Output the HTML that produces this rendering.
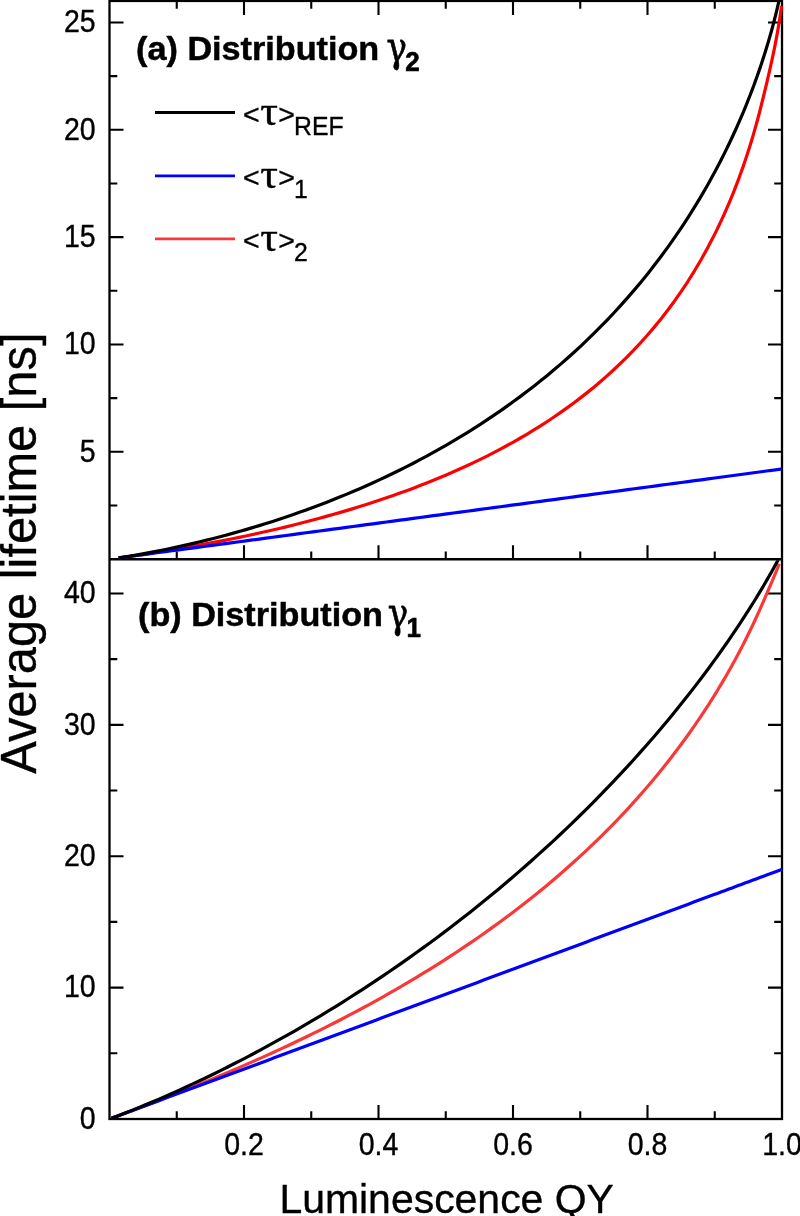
<!DOCTYPE html>
<html lang="en"><head><meta charset="utf-8"><title>Average lifetime vs Luminescence QY</title>
<style>html,body{margin:0;padding:0;background:#fff}svg{display:block}</style></head>
<body>
<svg width="800" height="1216" viewBox="0 0 800 1216">
<rect width="800" height="1216" fill="#fff"/>
<defs><clipPath id="ca"><rect x="109.5" y="0" width="673.7" height="560.45"/></clipPath><clipPath id="cb"><rect x="109.5" y="560.35" width="673.7" height="559.75"/></clipPath></defs>
<g stroke="#000" stroke-width="2.3" fill="none" stroke-linecap="butt">
<rect x="109.5" y="0.95" width="672.5" height="1118.05"/>
<line x1="109.5" y1="559.25" x2="782.0" y2="559.25"/>
<path d="M176.75,0.95v7.8 M176.75,559.25v-7.8 M176.75,1119.0v-7.8 M244.00,0.95v14.0 M244.00,559.25v-14.0 M244.00,1119.0v-14.0 M311.25,0.95v7.8 M311.25,559.25v-7.8 M311.25,1119.0v-7.8 M378.50,0.95v14.0 M378.50,559.25v-14.0 M378.50,1119.0v-14.0 M445.75,0.95v7.8 M445.75,559.25v-7.8 M445.75,1119.0v-7.8 M513.00,0.95v14.0 M513.00,559.25v-14.0 M513.00,1119.0v-14.0 M580.25,0.95v7.8 M580.25,559.25v-7.8 M580.25,1119.0v-7.8 M647.50,0.95v14.0 M647.50,559.25v-14.0 M647.50,1119.0v-14.0 M714.75,0.95v7.8 M714.75,559.25v-7.8 M714.75,1119.0v-7.8 M109.5,505.47h7.8 M782.0,505.47h-7.8 M109.5,451.81h14.0 M782.0,451.81h-14.0 M109.5,398.14h7.8 M782.0,398.14h-7.8 M109.5,344.47h14.0 M782.0,344.47h-14.0 M109.5,290.80h7.8 M782.0,290.80h-7.8 M109.5,237.13h14.0 M782.0,237.13h-14.0 M109.5,183.47h7.8 M782.0,183.47h-7.8 M109.5,129.80h14.0 M782.0,129.80h-14.0 M109.5,76.13h7.8 M782.0,76.13h-7.8 M109.5,22.47h14.0 M782.0,22.47h-14.0 M109.5,1053.31h7.8 M782.0,1053.31h-7.8 M109.5,987.61h14.0 M782.0,987.61h-14.0 M109.5,921.91h7.8 M782.0,921.91h-7.8 M109.5,856.22h14.0 M782.0,856.22h-14.0 M109.5,790.53h7.8 M782.0,790.53h-7.8 M109.5,724.83h14.0 M782.0,724.83h-14.0 M109.5,659.13h7.8 M782.0,659.13h-7.8 M109.5,593.44h14.0 M782.0,593.44h-14.0" stroke-width="2.1"/>
</g>
<g clip-path="url(#ca)" fill="none" stroke-width="3.2" stroke-linejoin="round">
<path d="M118.58,557.91 L125.28,556.98 L131.98,556.03 L138.67,555.05 L145.37,554.06 L152.07,553.03 L158.77,551.99 L165.47,550.92 L172.17,549.82 L178.87,548.70 L185.56,547.55 L192.26,546.37 L198.96,545.17 L205.66,543.94 L212.36,542.69 L219.06,541.40 L225.76,540.08 L232.45,538.74 L239.15,537.37 L245.85,535.96 L252.55,534.52 L259.25,533.05 L265.95,531.55 L272.65,530.01 L279.34,528.44 L286.04,526.84 L292.74,525.19 L299.44,523.51 L306.14,521.80 L312.84,520.04 L319.54,518.24 L326.23,516.40 L332.93,514.52 L339.63,512.60 L346.33,510.63 L353.03,508.61 L359.73,506.55 L366.43,504.44 L373.12,502.28 L379.82,500.06 L386.52,497.80 L393.22,495.48 L399.92,493.10 L406.62,490.66 L413.32,488.16 L420.01,485.60 L426.71,482.98 L433.41,480.29 L440.11,477.53 L446.81,474.70 L453.51,471.80 L460.20,468.82 L466.90,465.75 L473.60,462.61 L480.30,459.38 L487.00,456.06 L493.70,452.65 L500.40,449.14 L507.09,445.52 L513.79,441.81 L520.49,437.99 L527.19,434.04 L533.89,429.98 L540.59,425.79 L547.29,421.47 L553.98,417.01 L560.68,412.40 L567.38,407.65 L574.08,402.73 L580.78,397.64 L587.48,392.37 L594.18,386.90 L600.87,381.24 L607.57,375.36 L614.27,369.26 L620.97,362.91 L627.67,356.31 L634.37,349.42 L641.07,342.23 L647.76,334.73 L654.46,326.88 L661.16,318.65 L667.86,310.01 L674.56,300.94 L681.26,291.37 L687.96,281.27 L694.65,270.56 L701.35,259.20 L708.05,247.10 L714.75,234.14 L716.61,230.40 L718.46,226.57 L720.32,222.66 L722.17,218.67 L724.03,214.59 L725.88,210.43 L727.74,206.17 L729.59,201.81 L731.45,197.35 L733.30,192.78 L735.16,188.10 L737.01,183.30 L738.87,178.37 L740.72,173.31 L742.58,168.11 L744.43,162.76 L746.29,157.25 L748.14,151.57 L750.00,145.71 L751.85,139.66 L753.71,133.41 L755.56,126.93 L757.42,120.21 L759.27,113.23 L761.13,105.96 L762.98,98.43 L764.84,90.81 L766.69,83.07 L768.55,75.17 L768.88,73.73 L769.22,72.28 L769.55,70.83 L769.88,69.37 L770.21,67.89 L770.55,66.41 L770.88,64.92 L771.21,63.42 L771.55,61.90 L771.88,60.38 L772.21,58.84 L772.54,57.29 L772.88,55.73 L773.21,54.15 L773.54,52.56 L773.87,50.95 L774.21,49.32 L774.54,47.68 L774.87,46.01 L775.21,44.33 L775.54,42.63 L775.87,40.90 L776.20,39.15 L776.54,37.37 L776.87,35.57 L777.20,33.74 L777.54,31.88 L777.87,29.98 L778.20,28.06 L778.53,26.09 L778.87,24.08 L779.20,22.03 L779.53,19.93 L779.87,17.77 L780.20,15.56 L780.53,13.28 L780.86,10.93 L781.20,8.50 L781.53,5.97" stroke="#ff0000"/>
<path d="M118.58,557.92 L125.28,557.02 L131.98,556.13 L138.67,555.23 L145.37,554.33 L152.07,553.43 L158.77,552.53 L165.47,551.64 L172.17,550.74 L178.87,549.84 L185.56,548.94 L192.26,548.04 L198.96,547.15 L205.66,546.25 L212.36,545.35 L219.06,544.45 L225.76,543.55 L232.45,542.66 L239.15,541.76 L245.85,540.86 L252.55,539.96 L259.25,539.06 L265.95,538.17 L272.65,537.27 L279.34,536.37 L286.04,535.47 L292.74,534.57 L299.44,533.67 L306.14,532.78 L312.84,531.88 L319.54,530.98 L326.23,530.08 L332.93,529.18 L339.63,528.29 L346.33,527.39 L353.03,526.49 L359.73,525.59 L366.43,524.69 L373.12,523.80 L379.82,522.90 L386.52,522.00 L393.22,521.10 L399.92,520.20 L406.62,519.31 L413.32,518.41 L420.01,517.51 L426.71,516.61 L433.41,515.71 L440.11,514.82 L446.81,513.92 L453.51,513.02 L460.20,512.12 L466.90,511.22 L473.60,510.33 L480.30,509.43 L487.00,508.53 L493.70,507.63 L500.40,506.73 L507.09,505.83 L513.79,504.94 L520.49,504.04 L527.19,503.14 L533.89,502.24 L540.59,501.34 L547.29,500.45 L553.98,499.55 L560.68,498.65 L567.38,497.75 L574.08,496.85 L580.78,495.96 L587.48,495.06 L594.18,494.16 L600.87,493.26 L607.57,492.36 L614.27,491.47 L620.97,490.57 L627.67,489.67 L634.37,488.77 L641.07,487.87 L647.76,486.98 L654.46,486.08 L661.16,485.18 L667.86,484.28 L674.56,483.38 L681.26,482.49 L687.96,481.59 L694.65,480.69 L701.35,479.79 L708.05,478.89 L714.75,477.99 L716.61,477.75 L718.46,477.50 L720.32,477.25 L722.17,477.00 L724.03,476.75 L725.88,476.50 L727.74,476.25 L729.59,476.00 L731.45,475.76 L733.30,475.51 L735.16,475.26 L737.01,475.01 L738.87,474.76 L740.72,474.51 L742.58,474.26 L744.43,474.02 L746.29,473.77 L748.14,473.52 L750.00,473.27 L751.85,473.02 L753.71,472.77 L755.56,472.52 L757.42,472.27 L759.27,472.03 L761.13,471.78 L762.98,471.53 L764.84,471.28 L766.69,471.03 L768.55,470.78 L768.89,470.74 L769.24,470.69 L769.58,470.64 L769.93,470.60 L770.27,470.55 L770.62,470.50 L770.96,470.46 L771.31,470.41 L771.65,470.37 L772.00,470.32 L772.34,470.27 L772.69,470.23 L773.03,470.18 L773.38,470.13 L773.72,470.09 L774.07,470.04 L774.41,470.00 L774.76,469.95 L775.10,469.90 L775.45,469.86 L775.79,469.81 L776.14,469.76 L776.48,469.72 L776.83,469.67 L777.17,469.63 L777.52,469.58 L777.86,469.53 L778.21,469.49 L778.55,469.44 L778.90,469.39 L779.24,469.35 L779.59,469.30 L779.93,469.26 L780.28,469.21 L780.62,469.16 L780.97,469.12 L781.31,469.07 L781.66,469.02 L782.00,468.98" stroke="#0000ff"/>
<path d="M118.58,557.85 L125.28,556.82 L131.98,555.73 L138.67,554.59 L145.37,553.39 L152.07,552.14 L158.77,550.85 L165.47,549.50 L172.17,548.11 L178.87,546.66 L185.56,545.17 L192.26,543.64 L198.96,542.05 L205.66,540.42 L212.36,538.74 L219.06,537.01 L225.76,535.23 L232.45,533.41 L239.15,531.53 L245.85,529.61 L252.55,527.63 L259.25,525.61 L265.95,523.53 L272.65,521.40 L279.34,519.22 L286.04,516.99 L292.74,514.70 L299.44,512.36 L306.14,509.96 L312.84,507.50 L319.54,504.99 L326.23,502.42 L332.93,499.79 L339.63,497.11 L346.33,494.36 L353.03,491.54 L359.73,488.67 L366.43,485.73 L373.12,482.72 L379.82,479.65 L386.52,476.50 L393.22,473.29 L399.92,470.01 L406.62,466.65 L413.32,463.22 L420.01,459.70 L426.71,456.12 L433.41,452.45 L440.11,448.70 L446.81,444.86 L453.51,440.94 L460.20,436.93 L466.90,432.83 L473.60,428.63 L480.30,424.34 L487.00,419.94 L493.70,415.45 L500.40,410.85 L507.09,406.14 L513.79,401.32 L520.49,396.39 L527.19,391.33 L533.89,386.15 L540.59,380.85 L547.29,375.41 L553.98,369.83 L560.68,364.12 L567.38,358.25 L574.08,352.23 L580.78,346.06 L587.48,339.71 L594.18,333.19 L600.87,326.48 L607.57,319.59 L614.27,312.50 L620.97,305.20 L627.67,297.67 L634.37,289.91 L641.07,281.91 L647.76,273.65 L654.46,265.11 L661.16,256.28 L667.86,247.13 L674.56,237.65 L681.26,227.81 L687.96,217.58 L694.65,206.92 L701.35,195.80 L708.05,184.19 L714.75,172.01 L716.61,168.53 L718.46,165.00 L720.32,161.42 L722.17,157.79 L724.03,154.10 L725.88,150.36 L727.74,146.56 L729.59,142.70 L731.45,138.78 L733.30,134.79 L735.16,130.74 L737.01,126.61 L738.87,122.41 L740.72,118.14 L742.58,113.78 L744.43,109.34 L746.29,104.81 L748.14,100.19 L750.00,95.47 L751.85,90.64 L753.71,85.70 L755.56,80.65 L757.42,75.47 L759.27,70.15 L761.13,64.69 L762.98,59.07 L764.84,53.28 L766.69,47.29 L768.55,41.11 L768.89,39.93 L769.24,38.75 L769.58,37.56 L769.93,36.35 L770.27,35.15 L770.62,33.93 L770.96,32.70 L771.31,31.46 L771.65,30.22 L772.00,28.96 L772.34,27.69 L772.69,26.41 L773.03,25.13 L773.38,23.83 L773.72,22.52 L774.07,21.19 L774.41,19.86 L774.76,18.51 L775.10,17.15 L775.45,15.78 L775.79,14.39 L776.14,12.98 L776.48,11.57 L776.83,10.13 L777.17,8.68 L777.52,7.22 L777.86,5.73 L778.21,4.23 L778.55,2.70 L778.90,1.15 L779.24,-0.41 L779.59,-2.01 L779.93,-3.62 L780.28,-5.27 L780.62,-6.95 L780.97,-8.65 L781.31,-10.40 L781.66,-12.19 L782.00,-14.03" stroke="#000"/>
</g>
<g clip-path="url(#cb)" fill="none" stroke-width="3.2" stroke-linejoin="round">
<path d="M111.52,1118.25 L118.30,1115.73 L125.07,1113.21 L131.85,1110.67 L138.63,1108.11 L145.41,1105.54 L152.18,1102.95 L158.96,1100.34 L165.74,1097.71 L172.52,1095.06 L179.30,1092.38 L186.07,1089.68 L192.85,1086.96 L199.63,1084.21 L206.41,1081.43 L213.19,1078.62 L219.96,1075.79 L226.74,1072.93 L233.52,1070.03 L240.30,1067.11 L247.08,1064.15 L253.85,1061.16 L260.63,1058.14 L267.41,1055.09 L274.19,1052.00 L280.96,1048.87 L287.74,1045.71 L294.52,1042.50 L301.30,1039.27 L308.08,1035.99 L314.85,1032.67 L321.63,1029.31 L328.41,1025.91 L335.19,1022.46 L341.97,1018.98 L348.74,1015.44 L355.52,1011.86 L362.30,1008.23 L369.08,1004.56 L375.86,1000.83 L382.63,997.06 L389.41,993.22 L396.19,989.34 L402.97,985.40 L409.74,981.41 L416.52,977.35 L423.30,973.24 L430.08,969.07 L436.86,964.83 L443.63,960.53 L450.41,956.15 L457.19,951.72 L463.97,947.20 L470.75,942.62 L477.52,937.96 L484.30,933.23 L491.08,928.42 L497.86,923.51 L504.64,918.54 L511.41,913.46 L518.19,908.30 L524.97,903.04 L531.75,897.69 L538.52,892.23 L545.30,886.67 L552.08,881.00 L558.86,875.22 L565.64,869.32 L572.41,863.30 L579.19,857.15 L585.97,850.87 L592.75,844.45 L599.53,837.88 L606.30,831.17 L613.08,824.29 L619.86,817.25 L626.64,810.04 L633.42,802.64 L640.19,795.05 L646.97,787.26 L653.75,779.25 L660.53,771.02 L667.30,762.53 L674.08,753.79 L680.86,744.78 L687.64,735.48 L694.42,725.85 L701.19,715.89 L707.97,705.55 L714.75,694.82 L716.61,691.80 L718.46,688.76 L720.32,685.68 L722.17,682.56 L724.03,679.41 L725.88,676.22 L727.74,672.99 L729.59,669.72 L731.45,666.41 L733.30,663.06 L735.16,659.66 L737.01,656.22 L738.87,652.74 L740.72,649.20 L742.58,645.62 L744.43,641.98 L746.29,638.29 L748.14,634.55 L750.00,630.75 L751.85,626.89 L753.71,622.97 L755.56,618.99 L757.42,614.93 L759.27,610.81 L761.13,606.61 L762.98,602.35 L764.84,598.08 L766.69,593.80 L768.55,589.50 L768.83,588.86 L769.10,588.22 L769.38,587.58 L769.65,586.94 L769.93,586.30 L770.21,585.65 L770.48,585.01 L770.76,584.37 L771.03,583.72 L771.31,583.08 L771.58,582.43 L771.86,581.78 L772.14,581.14 L772.41,580.49 L772.69,579.84 L772.96,579.19 L773.24,578.54 L773.52,577.89 L773.79,577.24 L774.07,576.58 L774.34,575.93 L774.62,575.27 L774.90,574.62 L775.17,573.96 L775.45,573.30 L775.72,572.64 L776.00,571.98 L776.28,571.32 L776.55,570.66 L776.83,569.99 L777.10,569.33 L777.38,568.66 L777.65,567.99 L777.93,567.33 L778.21,566.65 L778.48,565.98 L778.76,565.31 L779.03,564.63 L779.31,563.96" stroke="#fb3838"/>
<path d="M111.52,1118.25 L118.30,1115.74 L125.07,1113.22 L131.85,1110.70 L138.63,1108.19 L145.41,1105.67 L152.18,1103.15 L158.96,1100.64 L165.74,1098.12 L172.52,1095.61 L179.30,1093.09 L186.07,1090.57 L192.85,1088.06 L199.63,1085.54 L206.41,1083.03 L213.19,1080.51 L219.96,1077.99 L226.74,1075.48 L233.52,1072.96 L240.30,1070.45 L247.08,1067.93 L253.85,1065.41 L260.63,1062.90 L267.41,1060.38 L274.19,1057.87 L280.96,1055.35 L287.74,1052.83 L294.52,1050.32 L301.30,1047.80 L308.08,1045.29 L314.85,1042.77 L321.63,1040.25 L328.41,1037.74 L335.19,1035.22 L341.97,1032.71 L348.74,1030.19 L355.52,1027.67 L362.30,1025.16 L369.08,1022.64 L375.86,1020.13 L382.63,1017.61 L389.41,1015.09 L396.19,1012.58 L402.97,1010.06 L409.74,1007.55 L416.52,1005.03 L423.30,1002.51 L430.08,1000.00 L436.86,997.48 L443.63,994.96 L450.41,992.45 L457.19,989.93 L463.97,987.42 L470.75,984.90 L477.52,982.38 L484.30,979.87 L491.08,977.35 L497.86,974.84 L504.64,972.32 L511.41,969.80 L518.19,967.29 L524.97,964.77 L531.75,962.26 L538.52,959.74 L545.30,957.22 L552.08,954.71 L558.86,952.19 L565.64,949.68 L572.41,947.16 L579.19,944.64 L585.97,942.13 L592.75,939.61 L599.53,937.10 L606.30,934.58 L613.08,932.06 L619.86,929.55 L626.64,927.03 L633.42,924.52 L640.19,922.00 L646.97,919.48 L653.75,916.97 L660.53,914.45 L667.30,911.94 L674.08,909.42 L680.86,906.90 L687.64,904.39 L694.42,901.87 L701.19,899.36 L707.97,896.84 L714.75,894.32 L716.61,893.63 L718.46,892.95 L720.32,892.26 L722.17,891.57 L724.03,890.88 L725.88,890.19 L727.74,889.50 L729.59,888.81 L731.45,888.13 L733.30,887.44 L735.16,886.75 L737.01,886.06 L738.87,885.37 L740.72,884.68 L742.58,883.99 L744.43,883.30 L746.29,882.62 L748.14,881.93 L750.00,881.24 L751.85,880.55 L753.71,879.86 L755.56,879.17 L757.42,878.48 L759.27,877.80 L761.13,877.11 L762.98,876.42 L764.84,875.73 L766.69,875.04 L768.55,874.35 L768.89,874.22 L769.24,874.10 L769.58,873.97 L769.93,873.84 L770.27,873.71 L770.62,873.58 L770.96,873.46 L771.31,873.33 L771.65,873.20 L772.00,873.07 L772.34,872.94 L772.69,872.82 L773.03,872.69 L773.38,872.56 L773.72,872.43 L774.07,872.30 L774.41,872.18 L774.76,872.05 L775.10,871.92 L775.45,871.79 L775.79,871.66 L776.14,871.54 L776.48,871.41 L776.83,871.28 L777.17,871.15 L777.52,871.02 L777.86,870.90 L778.21,870.77 L778.55,870.64 L778.90,870.51 L779.24,870.38 L779.59,870.26 L779.93,870.13 L780.28,870.00 L780.62,869.87 L780.97,869.74 L781.31,869.62 L781.66,869.49 L782.00,869.36" stroke="#0000ff"/>
<path d="M111.52,1118.25 L118.30,1115.68 L125.07,1113.06 L131.85,1110.38 L138.63,1107.64 L145.41,1104.85 L152.18,1102.01 L158.96,1099.12 L165.74,1096.17 L172.52,1093.18 L179.30,1090.14 L186.07,1087.05 L192.85,1083.90 L199.63,1080.72 L206.41,1077.48 L213.19,1074.19 L219.96,1070.86 L226.74,1067.48 L233.52,1064.05 L240.30,1060.58 L247.08,1057.05 L253.85,1053.48 L260.63,1049.86 L267.41,1046.19 L274.19,1042.47 L280.96,1038.70 L287.74,1034.89 L294.52,1031.02 L301.30,1027.11 L308.08,1023.14 L314.85,1019.12 L321.63,1015.06 L328.41,1010.94 L335.19,1006.77 L341.97,1002.55 L348.74,998.27 L355.52,993.95 L362.30,989.57 L369.08,985.13 L375.86,980.64 L382.63,976.10 L389.41,971.50 L396.19,966.84 L402.97,962.13 L409.74,957.36 L416.52,952.52 L423.30,947.64 L430.08,942.68 L436.86,937.67 L443.63,932.60 L450.41,927.46 L457.19,922.26 L463.97,916.99 L470.75,911.66 L477.52,906.26 L484.30,900.79 L491.08,895.26 L497.86,889.65 L504.64,883.97 L511.41,878.21 L518.19,872.39 L524.97,866.48 L531.75,860.50 L538.52,854.43 L545.30,848.29 L552.08,842.06 L558.86,835.75 L565.64,829.34 L572.41,822.85 L579.19,816.27 L585.97,809.59 L592.75,802.82 L599.53,795.94 L606.30,788.97 L613.08,781.88 L619.86,774.69 L626.64,767.38 L633.42,759.96 L640.19,752.42 L646.97,744.75 L653.75,736.96 L660.53,729.03 L667.30,720.95 L674.08,712.74 L680.86,704.36 L687.64,695.83 L694.42,687.13 L701.19,678.25 L707.97,669.18 L714.75,659.91 L716.61,657.34 L718.46,654.75 L720.32,652.14 L722.17,649.52 L724.03,646.88 L725.88,644.23 L727.74,641.55 L729.59,638.86 L731.45,636.14 L733.30,633.41 L735.16,630.66 L737.01,627.89 L738.87,625.10 L740.72,622.29 L742.58,619.46 L744.43,616.60 L746.29,613.72 L748.14,610.82 L750.00,607.90 L751.85,604.95 L753.71,601.98 L755.56,598.98 L757.42,595.95 L759.27,592.89 L761.13,589.81 L762.98,586.70 L764.84,583.55 L766.69,580.38 L768.55,577.17 L768.89,576.57 L769.24,575.96 L769.58,575.36 L769.93,574.76 L770.27,574.15 L770.62,573.54 L770.96,572.94 L771.31,572.33 L771.65,571.72 L772.00,571.10 L772.34,570.49 L772.69,569.88 L773.03,569.26 L773.38,568.64 L773.72,568.02 L774.07,567.40 L774.41,566.78 L774.76,566.16 L775.10,565.53 L775.45,564.91 L775.79,564.28 L776.14,563.65 L776.48,563.02 L776.83,562.39 L777.17,561.76 L777.52,561.12 L777.86,560.48 L778.21,559.84 L778.55,559.20 L778.90,558.56 L779.24,557.92 L779.59,557.27 L779.93,556.63 L780.28,555.98 L780.62,555.33 L780.97,554.68 L781.31,554.02 L781.66,553.37 L782.00,552.71" stroke="#000"/>
</g>
<g font-family="Liberation Sans, Arial, sans-serif" fill="#000" stroke="#000" stroke-width="0.35" stroke-linejoin="round">
<g font-size="28.5" text-anchor="end">
<text transform="translate(95.7,461.50) scale(1,1.08)">5</text>
<text transform="translate(95.7,354.17) scale(1,1.08)">10</text>
<text transform="translate(95.7,246.83) scale(1,1.08)">15</text>
<text transform="translate(95.7,139.50) scale(1,1.08)">20</text>
<text transform="translate(95.7,32.17) scale(1,1.08)">25</text>
<text transform="translate(95.7,1128.70) scale(1,1.08)">0</text>
<text transform="translate(95.7,997.31) scale(1,1.08)">10</text>
<text transform="translate(95.7,865.92) scale(1,1.08)">20</text>
<text transform="translate(95.7,734.53) scale(1,1.08)">30</text>
<text transform="translate(95.7,603.14) scale(1,1.08)">40</text>
</g>
<g font-size="28.5" text-anchor="middle">
<text transform="translate(244.00,1155.2) scale(1,1.08)">0.2</text>
<text transform="translate(378.50,1155.2) scale(1,1.08)">0.4</text>
<text transform="translate(513.00,1155.2) scale(1,1.08)">0.6</text>
<text transform="translate(647.50,1155.2) scale(1,1.08)">0.8</text>
<text transform="translate(782.00,1155.2) scale(1,1.08)">1.0</text>
</g>
<text x="279.4" y="1213.4" font-size="40.95">Luminescence QY</text>
<text transform="translate(35.5,773.7) rotate(-90) scale(1,1.025)" font-size="48.8">Average lifetime [ns]</text>
<text transform="translate(136.1,60.1) scale(1,0.96)" font-size="34.2" font-weight="bold" stroke-width="0.5">(a) Distribution</text>
<text transform="translate(386.5,60.6) scale(0.9,1.08)" font-size="38" font-family="DejaVu Serif, Liberation Serif, serif" stroke="#000" stroke-width="0.7">γ</text>
<text transform="translate(405.3,70.8) scale(1,1.07)" font-size="26" font-weight="bold" stroke="#000" stroke-width="0.6">2</text>
<text transform="translate(138.0,626.2) scale(1,0.96)" font-size="34.2" font-weight="bold" stroke-width="0.5">(b) Distribution</text>
<text transform="translate(387.8,626.7) scale(0.9,1.08)" font-size="38" font-family="DejaVu Serif, Liberation Serif, serif" stroke="#000" stroke-width="0.7">γ</text>
<text transform="translate(406.6,636.9) scale(1,1.07)" font-size="26" font-weight="bold" stroke="#000" stroke-width="0.6">1</text>
<line x1="155" y1="112.5" x2="235" y2="112.5" stroke="#000" stroke-width="2.8"/>
<text x="242.95" y="124.15" font-size="28.5">&lt;</text>
<text transform="translate(260.2,124.80) scale(1.12,1)" font-family="Liberation Serif, serif" font-size="39.4">τ</text>
<text x="278.2" y="124.15" font-size="28.5">&gt;</text>
<text transform="translate(294,134.70) scale(1,1.04)" font-size="24.8">REF</text>
<line x1="155" y1="175.8" x2="235" y2="175.8" stroke="#0000ff" stroke-width="2.8"/>
<text x="242.95" y="187.45" font-size="28.5">&lt;</text>
<text transform="translate(260.2,188.10) scale(1.12,1)" font-family="Liberation Serif, serif" font-size="39.4">τ</text>
<text x="278.2" y="187.45" font-size="28.5">&gt;</text>
<text transform="translate(294,198.00) scale(1,1.04)" font-size="24.8">1</text>
<line x1="155" y1="238.8" x2="235" y2="238.8" stroke="#fb3838" stroke-width="2.8"/>
<text x="242.95" y="250.45" font-size="28.5">&lt;</text>
<text transform="translate(260.2,251.10) scale(1.12,1)" font-family="Liberation Serif, serif" font-size="39.4">τ</text>
<text x="278.2" y="250.45" font-size="28.5">&gt;</text>
<text transform="translate(294,261.00) scale(1,1.04)" font-size="24.8">2</text>
</g>
</svg>
</body></html>
